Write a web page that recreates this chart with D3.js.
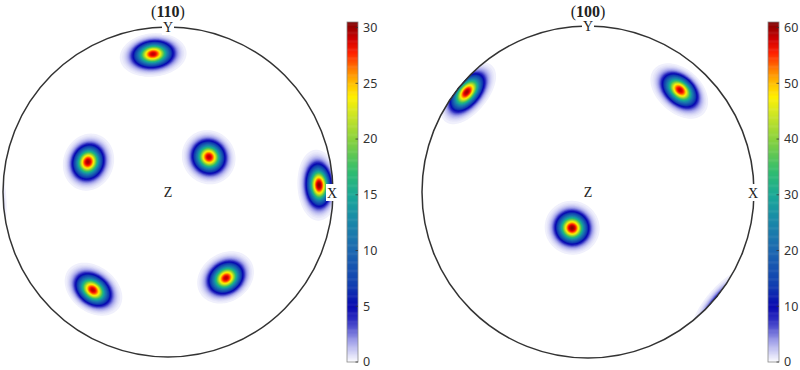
<!DOCTYPE html>
<html><head><meta charset="utf-8">
<script src="https://cdn.jsdelivr.net/npm/d3@7"></script>
<style>body{margin:0;background:#fff}</style>
</head><body>
<svg id="c" width="800" height="370" xmlns="http://www.w3.org/2000/svg"></svg>
<script>
// ---------------- data ----------------
const titles = ["110", "100"];
const colorMaxima = [30.5, 61];
const tickValues110 = [0, 5, 10, 15, 20, 25, 30];
const tickValues100 = [0, 10, 20, 30, 40, 50, 60];
// spot centres: polar angle from Z (deg), azimuth from X counter-clockwise (deg), peak intensity
const spots110Theta = [73.0, 43.0, 26.7, 80.8, 63.9, 52.8, 101.0];
const spots110Phi   = [96.2, 159.4, 40.5, 2.6, 232.5, 304.0, 183.0];
const spots110Peak  = [29.5, 30.0, 29.5, 30.5, 29.5, 29.5, 30.0];
const spots100Theta = [84.0, 71.6, 19.3, 98.0];
const spots100Phi   = [140.5, 47.9, 246.1, 320.0];
const spots100Peak  = [60.0, 59.0, 61.0, 60.0];
const spotWidth = 4.2; // degrees (gaussian sigma)
// colormap (fraction of max -> colour)
const cmapStops  = [0, 0.06, 0.12, 0.165, 0.23, 0.33, 0.42, 0.49, 0.56, 0.65, 0.74, 0.78, 0.82, 0.86, 0.91, 0.95, 1.0];
const cmapColors = ["#ffffff", "#a4a4ea", "#3434c4", "#0808b0", "#1240b0", "#1c68b0", "#1a8aa8", "#1aa898",
                    "#30bc70", "#84d040", "#d8e820", "#fff000", "#ffc000", "#ff8000", "#ff2000", "#d00000", "#800000"];

// ---------------- layout ----------------
const panels = [
  {title: titles[0], cx: 168, cy: 192, R: 165, max: colorMaxima[0], ticks: tickValues110,
   theta: spots110Theta, phi: spots110Phi, peak: spots110Peak, cbX: 347},
  {title: titles[1], cx: 588, cy: 192, R: 166, max: colorMaxima[1], ticks: tickValues100,
   theta: spots100Theta, phi: spots100Phi, peak: spots100Peak, cbX: 768}
];
const cbTop = 22, cbBottom = 362, cbW = 11;
const serif = "'Liberation Serif', 'DejaVu Serif', serif";
const sans = "'Noto Sans', 'Liberation Sans', sans-serif";

const svg = d3.select("#c");
const defs = svg.append("defs");
const cmap = d3.scaleLinear().domain(cmapStops).range(cmapColors).interpolate(d3.interpolateRgb).clamp(true);
const rad = Math.PI / 180;

panels.forEach((p, k) => {
  const color = v => cmap(v / p.max);
  // spot unit vectors
  const spots = p.theta.map((t, i) => {
    const th = t * rad, ph = p.phi[i] * rad;
    return {x: Math.sin(th) * Math.cos(ph), y: Math.sin(th) * Math.sin(ph), z: Math.cos(th), P: p.peak[i]};
  });
  const s2 = 2 * (spotWidth * rad) ** 2;
  const n = 260, E = 1.03;
  const g2u = d3.scaleLinear().domain([0, n]).range([-E, E]);
  const values = new Float64Array(n * n);
  for (let j = 0; j < n; j++) {
    const v = -g2u(j + 0.5);
    for (let i = 0; i < n; i++) {
      const u = g2u(i + 0.5);
      const r = Math.min(Math.hypot(u, v), Math.SQRT2);
      const th = 2 * Math.asin(r / Math.SQRT2);
      const ph = Math.atan2(v, u);
      const dx = Math.sin(th) * Math.cos(ph), dy = Math.sin(th) * Math.sin(ph), dz = Math.cos(th);
      let f = 0;
      for (const s of spots) {
        const d = Math.max(-1, Math.min(1, dx * s.x + dy * s.y + dz * s.z));
        const w = Math.acos(d);
        f += s.P * Math.exp(-w * w / s2);
      }
      values[j * n + i] = f;
    }
  }
  const step = p.max / 150;
  const thresholds = d3.range(step, p.max, step);
  const contours = d3.contours().size([n, n]).thresholds(thresholds)(values);
  const xs = d3.scaleLinear().domain([0, n]).range([p.cx - E * p.R, p.cx + E * p.R]);
  const ys = d3.scaleLinear().domain([0, n]).range([p.cy - E * p.R, p.cy + E * p.R]);
  const path = d3.geoPath(d3.geoTransform({point(x, y) { this.stream.point(xs(x), ys(y)); }}));

  defs.append("clipPath").attr("id", "clip" + k)
    .append("circle").attr("cx", p.cx).attr("cy", p.cy).attr("r", p.R);
  const g = svg.append("g").attr("clip-path", `url(#clip${k})`);
  g.selectAll("path").data(contours).join("path")
    .attr("d", path).attr("fill", d => color(d.value + step / 2)).attr("stroke", "none");

  svg.append("circle").attr("cx", p.cx).attr("cy", p.cy).attr("r", p.R)
    .attr("fill", "none").attr("stroke", "#333").attr("stroke-width", 1.5);

  // labels
  const lab = (txt, x, y, bg) => {
    if (bg) svg.append("rect").attr("x", x - 6).attr("y", y - 9).attr("width", 12).attr("height", 17).attr("fill", "#fff");
    svg.append("text").attr("x", x).attr("y", y).attr("text-anchor", "middle").attr("dominant-baseline", "central")
      .attr("font-family", serif).attr("font-size", 14).attr("fill", "#222").text(txt);
  };
  lab("Y", p.cx, p.cy - p.R, true);
  lab("X", p.cx + p.R - 1, p.cy + 1, true);
  lab("Z", p.cx, p.cy, false);

  const t = svg.append("text").attr("x", p.cx).attr("y", 11).attr("text-anchor", "middle")
    .attr("dominant-baseline", "central").attr("font-family", serif).attr("font-size", 16).attr("fill", "#222");
  t.append("tspan").text("(");
  t.append("tspan").attr("font-weight", "bold").text(p.title);
  t.append("tspan").text(")");

  // colorbar
  const cy = d3.scaleLinear().domain([0, p.max]).range([cbBottom, cbTop]);
  const cbStep = p.max / 300;
  const cbVals = d3.range(0, p.max, cbStep);
  svg.append("g").selectAll("rect").data(cbVals).join("rect")
    .attr("x", p.cbX).attr("width", cbW)
    .attr("y", d => cy(d + cbStep)).attr("height", d => cy(d) - cy(d + cbStep) + 0.5)
    .attr("fill", d => color(d + cbStep / 2));
  svg.append("rect").attr("x", p.cbX).attr("y", cbTop).attr("width", cbW).attr("height", cbBottom - cbTop)
    .attr("fill", "none").attr("stroke", "#8a8a8a").attr("stroke-width", 0.8);
  const ax = svg.append("g").attr("transform", `translate(${p.cbX + cbW},0)`)
    .call(d3.axisRight(cy).tickValues(p.ticks).tickSize(0).tickPadding(5));
  ax.select(".domain").remove();
  ax.selectAll("text").attr("font-family", sans).attr("font-size", 12.5).attr("fill", "#333").attr("dy", "0.3em");
  svg.append("g").selectAll("line").data(p.ticks).join("line")
    .attr("x1", p.cbX + cbW - 2.5).attr("x2", p.cbX + cbW)
    .attr("y1", d => cy(d)).attr("y2", d => cy(d)).attr("stroke", "#333").attr("stroke-width", 0.8);
});
</script>
</body></html>
